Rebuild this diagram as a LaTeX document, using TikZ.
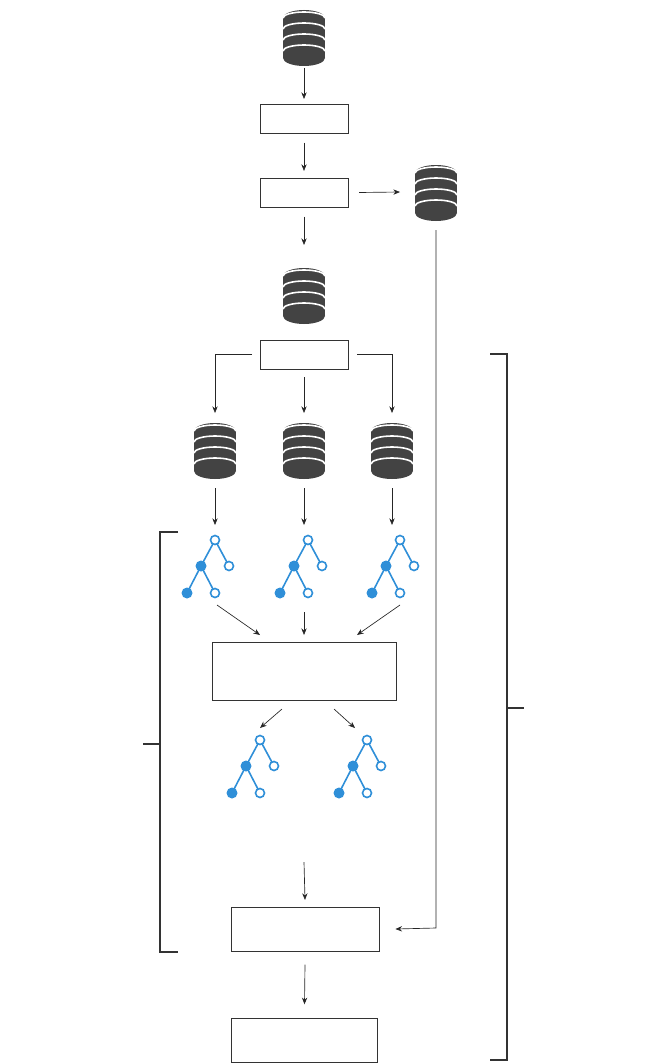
\documentclass[tikz,border=0pt]{standalone}
\usetikzlibrary{arrows.meta}
\definecolor{dbc}{HTML}{434343}
\definecolor{tb}{HTML}{2F8FD8}
\tikzset{
 box/.style={draw=black!80,line width=0.6pt,fill=white},
 arr/.style={-{Stealth[length=5pt,width=4pt]},line width=0.5pt,black!85},
 brk/.style={line width=1pt,black!80},
 db/.pic={
  \fill[dbc] (-21,-19) rectangle (21,21);
  \fill[dbc] (0,-19) ellipse (21 and 8);
  \fill[dbc] (0,21) ellipse (21 and 8);
  \foreach \y in {-8,3,14} \draw[white,line width=1.2pt] (-21,\y) arc (180:360:21 and 6);
  \draw[white,line width=1.2pt] (-21,-19) arc (180:360:21 and 6);
 },
 tr/.pic={
  \draw[tb,line width=1.2pt] (0,0)--(-14,26)--(-28,53) (-14,26)--(0,53) (0,0)--(14,26);
  \filldraw[tb,line width=1.2pt,fill=white] (0,0) circle (4.5) (14,26) circle (4.5) (0,53) circle (4.5);
  \fill[tb] (-14,26) circle (5.5) (-28,53) circle (5.5);
 }
}
\begin{document}
\begin{tikzpicture}[x=0.75pt,y=-0.75pt]
\useasboundingbox (0,0) rectangle (654,1063);
\pic at (304,37) {db};
\pic at (436,192) {db};
\pic at (304,295) {db};
\pic at (215,450) {db};
\pic at (304,450) {db};
\pic at (392,450) {db};
\pic at (215,540) {tr};
\pic at (308,540) {tr};
\pic at (400,540) {tr};
\pic at (260,740) {tr};
\pic at (367,740) {tr};
\node[box,minimum width=66pt,minimum height=21.75pt] (b1) at (304,118.5) {};
\node[box,minimum width=66pt,minimum height=21.75pt] (b2) at (304,192.5) {};
\node[box,minimum width=66pt,minimum height=21.75pt] (b3) at (304,354.5) {};
\node[box,minimum width=138pt,minimum height=43.5pt] (b4) at (304,671) {};
\node[box,minimum width=111pt,minimum height=33pt] (b5) at (305,929) {};
\node[box,minimum width=110pt,minimum height=33pt] (b6) at (304.5,1040) {};
\coordinate (c1) at (304,68); \coordinate (c2) at (304,99);
\draw[arr] (c1)--(c2);
\draw[arr] ([yshift=-7pt]b1.south)--([yshift=5pt]b2.north);
\draw[arr] ([xshift=8pt]b2.east)--(400,192);
\draw[arr] ([yshift=-7pt]b2.south)--(304,245);
\draw[arr] (252,354)--(215,354)--(215,413);
\draw[arr] ([yshift=-6pt]b3.south)--(304,413);
\draw[arr] (357,354)--(392,354)--(392,413);
\foreach \x in {215,304,392} \draw[arr] (\x,488)--(\x,525);
\draw[arr] (217,605)--(260,635);
\draw[arr] (304,612)--(304,635);
\draw[arr] (400,605)--(357,635);
\draw[arr] (282,709)--(260,728);
\draw[arr] (334,709)--(355,728);
\draw[arr] (304,862)--([yshift=5pt]b5.north);
\draw[arr] ([yshift=-10pt]b5.south)--([yshift=10pt]b6.north);
\draw[arr] (436,230)--(436,928)--([xshift=12pt]b5.east);
\draw[brk] (178,532)--(160,532)--(160,952)--(178,952) (160,744)--(143,744);
\draw[brk] (490,354)--(507,354)--(507,1060)--(490,1060) (507,708)--(524,708);
\end{tikzpicture}
\end{document}
